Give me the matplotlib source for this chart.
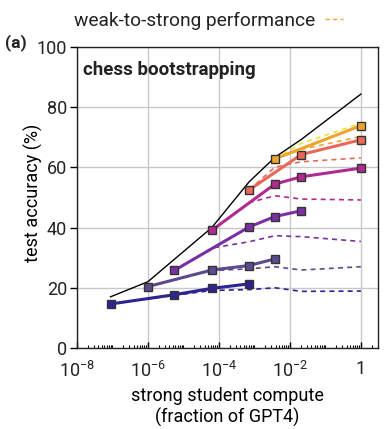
import numpy as np
import matplotlib
matplotlib.use("Agg")
import matplotlib.pyplot as plt
from matplotlib.lines import Line2D

plt.rcParams['font.family'] = ['Roboto', 'DejaVu Sans']
plt.rcParams['mathtext.fontset'] = 'custom'
plt.rcParams['mathtext.rm'] = 'Roboto'
plt.rcParams['mathtext.it'] = 'Roboto:italic'
plt.rcParams['mathtext.bf'] = 'Roboto:bold'
plt.rcParams['text.color'] = '#222222'
plt.rcParams['xtick.labelcolor'] = '#222222'
plt.rcParams['ytick.labelcolor'] = '#222222'

# strong student sizes, log10 of fraction of GPT4 compute
log_compute = [-7.05, -6.0, -5.25, -4.2, -3.15, -2.42, -1.68, 0.0]

# ground truth ceiling (black)
ceiling = [17.0, 22.0, 29.5, 40.0, 55.2, 63.4, 69.3, 84.4]

# bootstrapping chains: (indices into log_compute, accuracy)
boot_navy = ([0, 2, 3, 4], [14.6, 17.7, 19.8, 21.3])
boot_slate = ([1, 3, 4, 5], [20.4, 25.9, 27.4, 29.6])
boot_purple = ([2, 4, 5, 6], [25.8, 40.2, 43.7, 45.6])
boot_magenta = ([3, 5, 6, 7], [39.1, 54.5, 56.9, 59.8])
boot_salmon = ([4, 6, 7], [52.5, 64.3, 69.2])
boot_orange = ([5, 7], [62.9, 73.9])

# naive weak-to-strong (dashed)
w2s_navy = ([0, 2, 3, 4, 5, 6, 7], [14.6, 17.5, 19.1, 19.4, 20.0, 18.8, 18.9])
w2s_slate = ([1, 3, 4, 5, 6, 7], [20.4, 25.7, 26.3, 27.0, 25.9, 27.0])
w2s_purple = ([2, 3, 4, 5, 6, 7], [25.8, 33.2, 35.3, 37.3, 37.0, 35.4])
w2s_magenta = ([3, 4, 5, 6, 7], [39.1, 48.3, 50.6, 49.5, 49.2])
w2s_salmon = ([4, 5, 6, 7], [52.5, 60.1, 61.9, 63.2])
w2s_orange = ([5, 6, 7], [62.9, 66.0, 70.3])
w2s_yellow = ([5, 6, 7], [62.9, 68.0, 74.7])

c_navy = "#2e2391"
c_slate = "#5b4b8e"
c_purple = "#7a2fa3"
c_magenta = "#b12a90"
c_salmon = "#e8695a"
c_orange = "#eea530"
c_yellow = "#ece33a"

x = 10.0 ** np.array(log_compute)

fig = plt.figure(figsize=(3.9, 4.29), dpi=100)
ax = fig.add_axes([0.197, 0.189, 0.772, 0.701])

ax.plot(x, ceiling, color="black", lw=1.0, zorder=3)

dashed = [(w2s_navy, c_navy), (w2s_slate, c_slate), (w2s_purple, c_purple),
          (w2s_magenta, c_magenta), (w2s_salmon, c_salmon),
          (w2s_orange, c_orange), (w2s_yellow, c_yellow)]
for (idx, vals), col in dashed:
    ax.plot(x[idx], vals, color=col, lw=1.2, ls=(0, (3, 2.5)), zorder=2)

solid = [(boot_navy, c_navy), (boot_slate, c_slate), (boot_purple, c_purple),
         (boot_magenta, c_magenta), (boot_salmon, c_salmon),
         (boot_orange, c_orange)]
for (idx, vals), col in solid:
    ax.plot(x[idx], vals, color=col, lw=2.2, marker="s", ms=5.4,
            mec="#333333", mew=1.0, zorder=4)

ax.set_xscale("log")
ax.set_xlim(1e-8, 10 ** 0.48)
ax.set_ylim(0, 100)
ax.set_yticks([0, 20, 40, 60, 80, 100])

major = [1e-8, 1e-6, 1e-4, 1e-2, 1]
ax.set_xticks(major)
ax.set_xticklabels([r"$\mathregular{10^{-8}}$", r"$\mathregular{10^{-6}}$",
                    r"$\mathregular{10^{-4}}$", r"$\mathregular{10^{-2}}$", "1"])
minor = [s * 10.0 ** k for k in range(-8, 1) for s in range(1, 10)
         if s * 10.0 ** k <= 10 ** 0.48 and (s * 10.0 ** k) not in major]
ax.set_xticks(minor, minor=True)
ax.set_xticklabels([], minor=True)

ax.tick_params(axis="x", which="major", direction="in", length=4, width=1,
               labelsize=13, pad=9)
ax.tick_params(axis="x", which="minor", direction="in", length=2, width=0.8)
ax.tick_params(axis="y", direction="out", length=5, width=1, labelsize=13, pad=2)

ax.grid(True, which="major", color="#c8c8c8", lw=1.0)
ax.set_axisbelow(True)
for sp in ax.spines.values():
    sp.set_color("#222222")
    sp.set_linewidth(1.0)

ax.set_ylabel("test accuracy (%)", fontsize=13)
ax.yaxis.set_label_coords(-0.112, 0.515)
ax.set_xlabel("strong student compute\n(fraction of GPT4)", fontsize=13,
              linespacing=1.15, labelpad=5)

ax.text(0.02, 0.955, "chess bootstrapping", transform=ax.transAxes,
        fontsize=13.5, fontweight="bold", va="top", ha="left")

fig.text(0.013, 0.9, "(a)", fontsize=12.5, fontweight="bold", va="center")

handle = Line2D([], [], color=c_orange, lw=1.0, ls=(0, (3, 2.5)))
fig.legend([handle], ["weak-to-strong performance"], loc="center left",
           bbox_to_anchor=(0.19, 0.952), frameon=False, fontsize=13.8,
           markerfirst=False, handlelength=0.95, handletextpad=0.5,
           borderaxespad=0, borderpad=0)

fig.savefig("out.png", dpi=100)
